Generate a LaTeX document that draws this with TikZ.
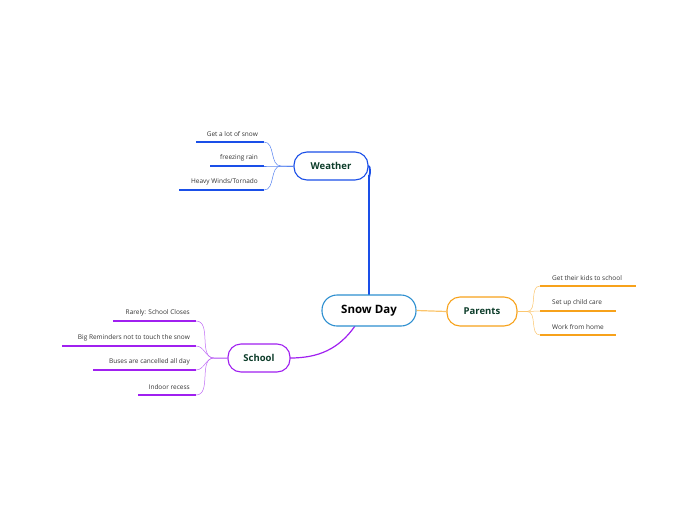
\documentclass[tikz,border=0pt]{standalone}
\usepackage{fontspec}
\setmainfont{Open Sans}
\definecolor{cblue}{HTML}{1A4FE8}
\definecolor{lblue}{HTML}{5A85F0}
\definecolor{cent}{HTML}{2D8FD0}
\definecolor{corange}{HTML}{F7A21B}
\definecolor{lorange}{HTML}{FBC46A}
\definecolor{cpurple}{HTML}{A020F0}
\definecolor{lpurple}{HTML}{BE6AF5}
\definecolor{tgreen}{HTML}{0D3D2A}
\begin{document}
\begin{tikzpicture}[x=1pt,y=-1pt,
 topic/.style={draw,line width=1.1pt,rounded corners=13pt,fill=white,text=tgreen,font=\bfseries\fontsize{9.5}{11}\selectfont,inner sep=0pt},
 leaf/.style={font=\fontsize{6.5}{8}\selectfont,text=black!80,inner sep=1pt,anchor=south},
 uline/.style={line width=1.6pt}]
\useasboundingbox (0,0) rectangle (697,520);
% main connectors
\coordinate (ctop) at (369,295);
\coordinate (wE) at (368,166);
\draw[cblue,line width=1.8pt] (ctop) -- (369,176) to[out=-90,in=0] (wE);
\coordinate (cbot) at (355,326);
\coordinate (sE) at (290,358);
\draw[cpurple,line width=1.2pt] (cbot) to[out=235,in=0] (sE);
\node[topic,draw=cent,text=black,minimum width=94pt,minimum height=31pt,font=\bfseries\fontsize{11.5}{13}\selectfont,rounded corners=15pt] (c) at (369,310.5) {Snow Day};
\node[topic,draw=cblue,minimum width=74pt,minimum height=28pt] (w) at (331,166) {Weather};
\node[topic,draw=corange,minimum width=70pt,minimum height=29pt] (p) at (482,311.5) {Parents};
\node[topic,draw=cpurple,minimum width=62pt,minimum height=28pt] (s) at (259,358) {School};
\draw[lorange,line width=1.2pt] (c.east) -- (p.west);
% weather leaves
\foreach \t/\y/\xa in {{Get a lot of snow}/142/196, {freezing rain}/166/210, {Heavy Winds/Tornado}/190/179}{
 \coordinate (a) at (264,\y); \coordinate (b) at (\xa,\y);
 \draw[cblue,uline] (a) -- (b);
 \node[leaf,anchor=south east] at (259,\y-4) {\t};
 \draw[lblue,line width=0.5pt] (w.west) -- (281,166) to[out=180,in=0] (a);
}
% parents leaves
\foreach \t/\y/\xb in {{Get their kids to school}/286/636, {Set up child care}/311/616, {Work from home}/335/616}{
 \coordinate (a) at (540,\y); \coordinate (b) at (\xb,\y);
 \draw[corange,uline] (a) -- (b);
 \node[leaf,anchor=south west] at (551,\y-4) {\t};
 \draw[lorange,line width=0.5pt] (p.east) -- (527,311.5) to[out=0,in=180] (a);
}
% school leaves
\foreach \t/\y/\xa in {{Rarely: School Closes}/321/113, {Big Reminders not to touch the snow}/346/62, {Buses are cancelled all day}/370/93, {Indoor recess}/395/138}{
 \coordinate (a) at (196,\y); \coordinate (b) at (\xa,\y);
 \draw[cpurple,uline] (a) -- (b);
 \node[leaf,anchor=south east] at (191,\y-4) {\t};
 \draw[lpurple,line width=0.5pt] (s.west) -- (214,358) to[out=180,in=0] (a);
}
\end{tikzpicture}
\end{document}
